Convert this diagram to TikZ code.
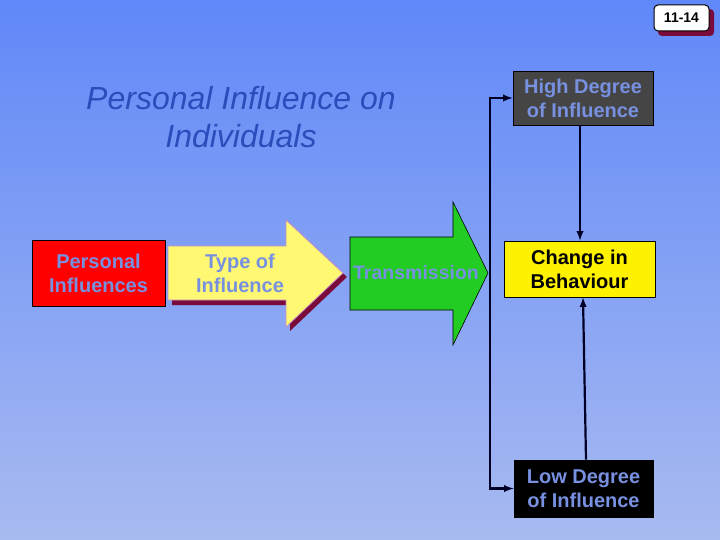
\documentclass[tikz,border=0pt]{standalone}
\usepackage{fontspec}
\setmainfont{Liberation Sans}
\begin{document}
\begin{tikzpicture}[x=1pt,y=-1pt,
  box/.style={draw=black,line width=0.8pt,align=center,font=\bfseries\fontsize{20}{24}\selectfont,inner sep=0pt},
  con/.style={line width=2.2pt,draw=black!85!blue,-latex}]
\definecolor{bgtop}{HTML}{6088F8}
\definecolor{bgbot}{HTML}{A8BAF0}
\definecolor{txtb}{HTML}{7890E0}
\definecolor{maroon}{HTML}{7A0A3A}
\definecolor{ttl}{HTML}{2A4DBB}
\definecolor{grn}{HTML}{22CC22}
\shade[top color=bgtop,bottom color=bgbot] (0,0) rectangle (720,540);
\useasboundingbox (0,0) rectangle (720,540);
% badge
\fill[maroon,rounded corners=4pt] (658,9) rectangle (714,36);
\node[draw=black,line width=1pt,fill=white,rounded corners=4pt,minimum width=55pt,minimum height=26pt,inner sep=0pt,font=\bfseries\fontsize{14}{16}\selectfont] (badge) at (681.5,18) {11-14};
% title
\node[align=center,text=ttl,font=\itshape\fontsize{32}{38}\selectfont] (title) at (241,117) {Personal Influence on\\Individuals};
% red box
\node[box,fill=red,text=txtb,minimum width=133pt,minimum height=66pt] (pers) at (98.5,273) {Personal\\Influences};
% yellow arrow with shadow
\fill[maroon] (172,250)--(290,250)--(290,224)--(347,277)--(290,331)--(290,305)--(172,305)--cycle;
\filldraw[fill=yellow!55!white,draw=violet!45!white,line width=0.8pt] (168,246)--(286,246)--(286,220)--(343,273)--(286,327)--(286,300)--(168,300)--cycle;
\node[text=txtb,align=center,font=\bfseries\fontsize{20}{24}\selectfont] (type) at (240,273) {Type of\\Influence};
% green arrow
\filldraw[fill=grn,draw=black,line width=0.6pt] (350,237)--(453,237)--(453,202)--(488,273)--(453,345)--(453,310)--(350,310)--cycle;
\node[text=txtb,font=\bfseries\fontsize{19.5}{24}\selectfont] (trans) at (416,273) {Transmission};
% right boxes
\node[box,fill=black!73,text=txtb,minimum width=140pt,minimum height=54pt] (high) at (583,98) {High Degree\\of Influence};
\node[box,fill=yellow,text=black,minimum width=151pt,minimum height=56pt] (chg) at (579.5,269) {Change in\\Behaviour};
\node[box,fill=black,text=txtb,minimum width=139pt,minimum height=57pt] (low) at (583.5,488.5) {Low Degree\\of Influence};
% connectors
\coordinate (j) at (490,273);
\draw[con] (j) |- (high.west);
\draw[con] (j) |- (low.west);
\draw[con] (high.south -| 580,0) -- (chg.north -| 580,0);
\draw[con] (low.north -| 586,0) -- (chg.south -| 583,0);
\end{tikzpicture}
\end{document}
